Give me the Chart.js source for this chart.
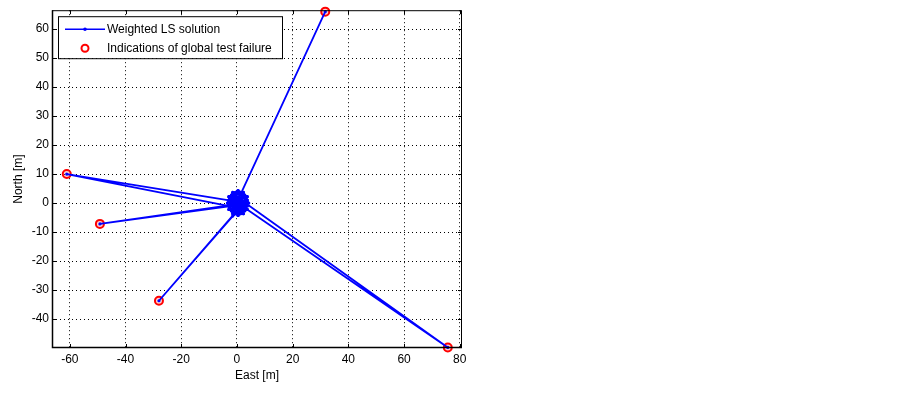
<!DOCTYPE html>
<html>
<head>
<meta charset="utf-8">
<script src="https://cdn.jsdelivr.net/npm/chart.js@4.4.0/dist/chart.umd.min.js"></script>
<style>
  html, body { margin: 0; padding: 0; background: #fff; }
  #wrap { position: relative; width: 902px; height: 394px; }
</style>
</head>
<body>
<div id="wrap"><canvas id="chart"></canvas></div>
<script>
// position track (East / North in metres), outliers included where they happen
const trackEast = [
  4.2, -2.9, 2.3, 0.4, -1.5, 3.7, -3.4, 3.7, -1.5, 0.4, 2.3, -2.9, 0.0,
  -61.1, 0.0,
  3.7, -2.9, 2.8, -2.0, 1.3, -0.5, -0.5, 1.3, -2.0, 2.8, -2.9, 3.7, 1.5,
  31.7, 1.2,
  4.2, 2.3, -1.5, -3.4, -1.5, 2.3, 3.7, 0.4, -2.9, -2.9, 0.4, 3.7, -0.3,
  -49.2, -0.4,
  3.7, 1.3, -2.0, -2.9, -0.5, 2.8, 2.8, -0.5, -2.9, -2.0, 1.3, 3.7, 2.0,
  75.7, 2.1,
  -1.4, 1.8, -1.8, 1.5, -0.6, 2.6, -2.4, 0.6, -1.5,
  -28.0, -1.2,
  2.2, -2.3, 1.0, -1.0, 2.4, -0.5, 1.2, -1.1, 0.8
];
const trackNorth = [
  0.0, 2.2, -3.7, 4.3, -3.7, 2.2, 0.0, -2.2, 3.7, -4.3, 3.7, -2.2, 0.5,
  10.0, -1.6,
  1.0, -1.0, 2.7, -2.7, 3.7, -3.7, 3.7, -3.7, 2.7, -2.7, 1.0, -1.0, 3.4,
  66.0, 2.8,
  0.0, 3.7, 3.7, 0.0, -3.7, -3.7, 2.2, 4.3, 2.2, -2.2, -4.3, -2.2, -0.8,
  -7.2, -0.5,
  1.0, 3.7, 2.7, -1.0, -3.7, -2.7, 2.7, 3.7, 1.0, -2.7, -3.7, -1.0, 0.7,
  -49.8, -1.2,
  -1.8, 1.6, 1.5, -2.2, 2.4, -0.5, -0.3, -2.8, -4.5,
  -33.7, -4.0,
  2.0, 0.4, -1.8, 2.0, -1.6, -2.2, 1.0, -0.4, 0.2
];

// epochs flagged by the global test
const failEast = [31.7, -61.1, -49.2, 75.7, -28.0];
const failNorth = [66.0, 10.0, -7.2, -49.8, -33.7];

const xTicks = [-60, -40, -20, 0, 20, 40, 60, 80];
const yTicks = [-40, -30, -20, -10, 0, 10, 20, 30, 40, 50, 60];

const FONT = 'Liberation Sans, Arial, sans-serif';

// MATLAB style box with inward ticks
const frame = {
  id: 'frame',
  afterDatasetsDraw(chart) {
    const { ctx, chartArea: a, scales } = chart;
    ctx.save();
    ctx.strokeStyle = '#000';
    ctx.lineWidth = 1;
    ctx.strokeRect(a.left + 0.5, a.top + 0.5, a.right - a.left - 1, a.bottom - a.top - 1);
    ctx.beginPath();
    xTicks.forEach(v => {
      const px = Math.round(scales.x.getPixelForValue(v)) + 0.5;
      ctx.moveTo(px, a.bottom); ctx.lineTo(px, a.bottom - 4);
      ctx.moveTo(px, a.top); ctx.lineTo(px, a.top + 4);
    });
    yTicks.forEach(v => {
      const py = Math.round(scales.y.getPixelForValue(v)) + 0.5;
      ctx.moveTo(a.left, py); ctx.lineTo(a.left + 4, py);
      ctx.moveTo(a.right, py); ctx.lineTo(a.right - 4, py);
    });
    ctx.stroke();
    // thicker left/bottom axis like the original
    ctx.lineWidth = 1.5;
    ctx.beginPath();
    ctx.moveTo(a.left + 0.5, a.top);
    ctx.lineTo(a.left + 0.5, a.bottom - 0.5);
    ctx.lineTo(a.right, a.bottom - 0.5);
    ctx.stroke();
    ctx.restore();
  }
};

// legend box inside the axes, top left
const boxLegend = {
  id: 'boxLegend',
  afterDraw(chart) {
    const { ctx, chartArea: a } = chart;
    const ds = chart.data.datasets;
    const x0 = a.left + 6, y0 = a.top + 6, w = 224, h = 42;
    ctx.save();
    ctx.fillStyle = '#fff';
    ctx.fillRect(x0, y0, w, h);
    ctx.strokeStyle = '#000';
    ctx.lineWidth = 1;
    ctx.strokeRect(x0 + 0.5, y0 + 0.5, w, h);

    // row 1: line with dot
    let ry = y0 + 13;
    ctx.strokeStyle = '#0000ff';
    ctx.lineWidth = 1.5;
    ctx.beginPath();
    ctx.moveTo(x0 + 7, ry); ctx.lineTo(x0 + 47, ry);
    ctx.stroke();
    ctx.fillStyle = '#0000ff';
    ctx.beginPath(); ctx.arc(x0 + 27, ry, 1.8, 0, Math.PI * 2); ctx.fill();

    ctx.fillStyle = '#000';
    ctx.font = '12px ' + FONT;
    ctx.textBaseline = 'middle';
    ctx.textAlign = 'left';
    ctx.fillText(ds[0].label, x0 + 49, ry + 0.5);

    // row 2: red circle
    ry = y0 + 32;
    ctx.strokeStyle = '#ff0000';
    ctx.lineWidth = 2;
    ctx.beginPath(); ctx.arc(x0 + 27, ry, 3.5, 0, Math.PI * 2); ctx.stroke();
    ctx.fillStyle = '#000';
    ctx.fillText(ds[1].label, x0 + 49, ry + 0.5);
    ctx.restore();
  }
};

const ctx = document.getElementById('chart');

new Chart(ctx, {
  type: 'scatter',
  data: {
    datasets: [{
      label: 'Weighted LS solution',
      data: trackEast.map((e, i) => ({ x: e, y: trackNorth[i] })),
      showLine: true,
      borderColor: '#0000ff',
      backgroundColor: '#0000ff',
      borderWidth: 1.8,
      borderJoinStyle: 'round',
      borderCapStyle: 'round',
      pointRadius: 1.6,
      pointBorderWidth: 0,
      tension: 0,
      clip: false
    }, {
      label: 'Indications of global test failure',
      data: failEast.map((e, i) => ({ x: e, y: failNorth[i] })),
      showLine: false,
      borderColor: '#ff0000',
      backgroundColor: 'rgba(255,120,120,0.35)',
      borderWidth: 2,
      pointRadius: 4,
      clip: false
    }]
  },
  options: {
    responsive: true,
    maintainAspectRatio: false,
    animation: false,
    events: [],
    layout: { padding: { left: 0, top: 6, right: 440, bottom: 0 } },
    plugins: {
      legend: { display: false },
      tooltip: { enabled: false }
    },
    scales: {
      x: {
        type: 'linear',
        min: -66.4,
        max: 80.8,
        afterBuildTicks: s => { s.ticks = xTicks.map(v => ({ value: v })); },
        afterFit: s => { s.height = 46; },
        grid: { color: '#000', lineWidth: 1, drawTicks: false },
        border: { display: false, dash: [1, 3] },
        ticks: { color: '#000', padding: 4, maxRotation: 0, font: { family: FONT, size: 12 } },
        title: { display: true, text: 'East [m]', color: '#000', padding: { top: 0, bottom: 11 }, font: { family: FONT, size: 12 } }
      },
      y: {
        type: 'linear',
        min: -50,
        max: 66.5,
        afterBuildTicks: s => { s.ticks = yTicks.map(v => ({ value: v })); },
        afterFit: s => { s.width = 52; },
        grid: { color: '#000', lineWidth: 1, drawTicks: false },
        border: { display: false, dash: [1, 3] },
        ticks: { color: '#000', padding: 3, font: { family: FONT, size: 12 } },
        title: { display: true, text: 'North [m]', color: '#000', padding: { top: 11, bottom: 0 }, font: { family: FONT, size: 12 } }
      }
    }
  },
  plugins: [frame, boxLegend]
});
</script>
</body>
</html>
